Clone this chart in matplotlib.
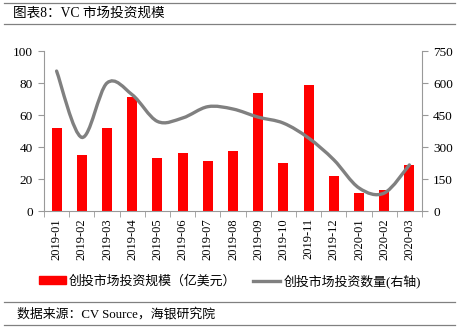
import matplotlib
matplotlib.use("Agg")
import matplotlib.pyplot as plt
from matplotlib.path import Path
from matplotlib.patches import PathPatch
from matplotlib.lines import Line2D
from matplotlib.patches import Patch
import numpy as np

months = ["2019-01", "2019-02", "2019-03", "2019-04", "2019-05", "2019-06", "2019-07",
          "2019-08", "2019-09", "2019-10", "2019-11", "2019-12", "2020-01", "2020-02", "2020-03"]
amount = [52, 35, 52, 71, 33, 36, 31.5, 37.5, 74, 30, 78.5, 22, 11.5, 13, 29]
deals = [656, 345, 600, 545, 420, 436, 489, 478, 440, 412, 342, 240, 108, 84, 216]

fonts = ["Liberation Serif", "Noto Sans CJK SC"]
plt.rcParams["font.family"] = fonts

fig = plt.figure(figsize=(4.59, 3.30), dpi=100)
ax = fig.add_axes([44/459, 1-211/330, 378/459, 160/330])
x = np.arange(len(months))
ax.bar(x, amount, width=0.4, color="#FF0000", zorder=2)
ax.set_xlim(-0.5, len(months)-0.5)
ax.set_ylim(0, 100)
ax.set_yticks(range(0, 101, 20))
ax.set_xticks(x)
ax.set_xticklabels(months, rotation=90, fontsize=9)
ax.set_xticks(np.arange(-0.5, len(months)), minor=True)
ax.tick_params(axis="x", which="major", length=0, pad=5)
ax.tick_params(axis="x", which="minor", length=4, color="#999999")
ax.tick_params(axis="y", length=4, color="#999999", labelsize=9.5, pad=4)
for s in ["top", "right"]:
    ax.spines[s].set_visible(False)
ax.spines["left"].set_color("#999999")
ax.spines["bottom"].set_color("#999999")

ax2 = ax.twinx()
ax2.set_ylim(0, 750)
ax2.set_yticks(range(0, 751, 150))
ax2.tick_params(axis="y", length=4, color="#999999", labelsize=9.5, pad=4)
for s in ["top", "left", "bottom"]:
    ax2.spines[s].set_visible(False)
ax2.spines["right"].set_color("#999999")

# smoothed line (Catmull-Rom -> Bezier, like Excel)
pts = np.column_stack([x, deals]).astype(float)
n = len(pts)
verts = [pts[0]]
codes = [Path.MOVETO]
for i in range(n-1):
    p0 = pts[i-1] if i > 0 else pts[i]
    p1 = pts[i]
    p2 = pts[i+1]
    p3 = pts[i+2] if i+2 < n else pts[i+1]
    c1 = p1 + (p2 - p0) / 6
    c2 = p2 - (p3 - p1) / 6
    verts += [c1, c2, p2]
    codes += [Path.CURVE4] * 3
ax2.add_patch(PathPatch(Path(verts, codes), facecolor="none", edgecolor="#808080",
                        lw=2.4, capstyle="round", zorder=3))

# legend
handles = [Patch(color="#FF0000"), Line2D([0], [0], color="#808080", lw=2.4)]
fig.legend(handles, ["创投市场投资规模（亿美元）", "创投市场投资数量(右轴)"],
           loc="center", bbox_to_anchor=(230/459, 1-281/330), ncol=2, frameon=False,
           prop={"family": fonts, "size": 9.3}, handlelength=2.1, handleheight=0.6,
           columnspacing=1.3, handletextpad=0.25)

# header / footer
for yy in [3, 24, 302, 325]:
    fig.add_artist(Line2D([4/459, 455/459], [1-yy/330, 1-yy/330], color="#808080", lw=0.9))
fig.text(13/459, 1-13.5/330, "图表8：VC 市场投资规模", fontsize=9.8, va="center", ha="left")
fig.text(17/459, 1-314/330, "数据来源：CV Source，海银研究院", fontsize=9.3, va="center", ha="left")

fig.savefig("out.png", dpi=100)
